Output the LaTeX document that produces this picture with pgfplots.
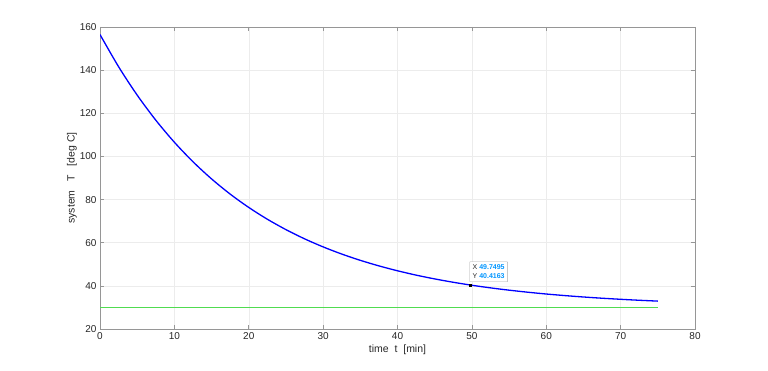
\documentclass[border=0pt]{standalone}
\usepackage{pgfplots}
\pgfplotsset{compat=1.18}
\usepackage{fontspec}
\setmainfont{Liberation Sans}
\definecolor{tipblue}{RGB}{0,150,255}
\definecolor{axgray}{RGB}{150,150,150}
\definecolor{boxgray}{RGB}{170,170,170}
\definecolor{txtgray}{RGB}{38,38,38}
\definecolor{linegreen}{RGB}{80,220,80}
\begin{document}
\begin{tikzpicture}[x=1pt,y=1pt]
\path[use as bounding box] (0,0) rectangle (768,370);
\begin{axis}[
  at={(100pt,41pt)}, anchor=south west,
  scale only axis, width=595pt, height=302pt,
  xmin=0, xmax=80, ymin=20, ymax=160,
  xtick={0,10,...,80}, ytick={20,40,...,160},
  grid=major, major grid style={draw=gray!15, line width=0.5pt},
  axis line style={draw=axgray, line width=0.7pt},
  tick style={draw=axgray, line width=0.6pt},
  tick align=inside, major tick length=4pt,
  xtick pos=both, ytick pos=both,
  ticklabel style={font=\fontsize{10}{12}\selectfont, text=txtgray},
  /pgf/number format/assume math mode=true,
  xlabel={time\ \ t\ \ [min]}, ylabel={system\ \ \ T\ \ \ [deg C]},
  label style={font=\fontsize{10.5}{12}\selectfont, text=txtgray},
  xlabel style={yshift=2pt},
  ylabel style={yshift=-4pt},
]
\addplot+[draw=linegreen, line width=1.1pt, mark=none, solid] coordinates {(0,30) (75,30)};
\addplot+[color=blue, line width=1.3pt, smooth, mark=none, solid] coordinates {
(0,156.50) (2.5,141.58) (5,128.42) (7.5,116.81) (10,106.58) (12.5,97.54)
(15,89.58) (17.5,82.55) (20,76.35) (22.5,70.89) (25,66.07) (27.5,61.81)
(30,58.06) (32.5,54.75) (35,51.83) (37.5,49.26) (40,46.99) (42.5,44.98)
(45,43.22) (47.5,41.66) (50,40.28) (52.5,39.07) (55,38.00) (57.5,37.06)
(60,36.22) (62.5,35.49) (65,34.84) (67.5,34.27) (70,33.77) (72.5,33.32)
(75,32.93)};
\addplot[only marks, mark=square*, mark size=1.2pt, black] coordinates {(49.7495,40.4163)};
\node[anchor=south west, draw=boxgray, fill=white, inner sep=3pt, align=left,
  rounded corners=0.5pt, text=txtgray,
  font=\fontsize{7}{9}\selectfont, xshift=-0.5pt, yshift=3pt]
  at (axis cs:49.7495,40.4163)
  {X \textbf{\textcolor{tipblue}{49.7495}}\\Y \textbf{\textcolor{tipblue}{40.4163}}};
\end{axis}
\end{tikzpicture}
\end{document}
